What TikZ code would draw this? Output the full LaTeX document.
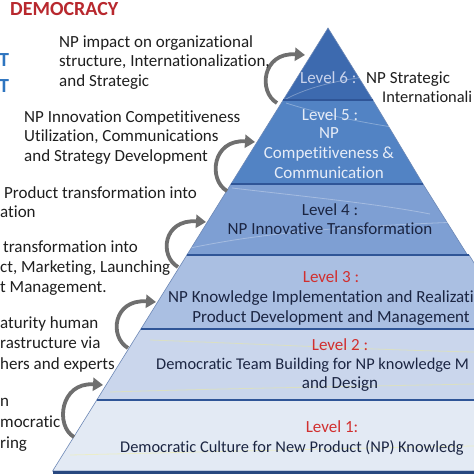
\documentclass[tikz,border=0pt]{standalone}
\usepackage{fontspec}
\setmainfont{Carlito}[Ligatures=NoCommon]
\usetikzlibrary{arrows.meta}
\definecolor{lvA}{HTML}{3D6AAF}
\definecolor{lvB}{HTML}{5283C4}
\definecolor{lvC}{HTML}{7E9FD3}
\definecolor{lvD}{HTML}{AABFE2}
\definecolor{lvE}{HTML}{CAD6EC}
\definecolor{lvF}{HTML}{E3EAF4}
\definecolor{edgeblue}{HTML}{2F5597}
\definecolor{arrowgray}{HTML}{6F6F6F}
\definecolor{redtxt}{HTML}{D12F2F}
\definecolor{demred}{HTML}{B8282E}
\definecolor{tblue}{HTML}{2E75C0}
\definecolor{lighttxt}{HTML}{E6ECF7}
\definecolor{pale}{HTML}{C9D3EC}
\definecolor{navytxt}{HTML}{1B2542}
\tikzset{
  txt/.style={font=\fontsize{17}{20}\selectfont, inner sep=0pt, anchor=base west, text=black!88},
  smalltxt/.style={txt, font=\fontsize{16.4}{20}\selectfont},
  ctxt/.style={txt, anchor=base},
  headline/.style={font=\fontsize{20}{24}\selectfont\bfseries, inner sep=0pt, anchor=base west},
  levelshape/.style={draw=edgeblue!70, line width=0.6pt},
  boundary/.style={draw=edgeblue, line width=1.3pt},
  garrow/.style={draw=arrowgray, line width=3.8pt, -{Triangle[length=10pt,width=13pt]}},
  swoosh/.style={draw=white, opacity=0.3, line width=0.8pt}
}
\begin{document}
\begin{tikzpicture}[x=1pt,y=-1pt]
\useasboundingbox (0,0) rectangle (474,474);
\begin{scope}
\clip (0,0) rectangle (474,474);
\fill[white] (0,0) rectangle (474,474);
% pyramid levels (apex 328,28)
\filldraw[levelshape, fill=lvF] (96.8,400) -- (559.2,400) -- (603.4,471) -- (52.6,471) -- cycle;
\filldraw[levelshape, fill=lvE] (140.9,329) -- (515.1,329) -- (559.2,400) -- (96.8,400) -- cycle;
\filldraw[levelshape, fill=lvD] (186.9,255) -- (469.1,255) -- (515.1,329) -- (140.9,329) -- cycle;
\filldraw[levelshape, fill=lvC] (231.0,184) -- (423.0,184) -- (467.5,255) -- (186.9,255) -- cycle;
\filldraw[levelshape, fill=lvB] (283.2,100) -- (372.8,100) -- (423.0,184) -- (231.0,184) -- cycle;
\filldraw[levelshape, fill=lvA] (328,28) -- (372.8,100) -- (283.2,100) -- cycle;
% decorative swooshes
\begin{scope}
\clip (328,28) -- (603.4,471) -- (52.6,471) -- cycle;
\draw[swoosh] (284,100) .. controls (310,86) and (340,80) .. (372,76);
\draw[swoosh] (286,103) .. controls (320,114) and (360,122) .. (392,127);
\draw[swoosh] (232,188) .. controls (300,196) and (380,204) .. (430,214);
\draw[swoosh] (190,248) .. controls (240,238) and (300,228) .. (460,222);
\draw[swoosh, draw=yellow!60!white] (150,340) .. controls (260,344) and (380,350) .. (474,352);
\draw[swoosh, draw=yellow!60!white] (110,392) .. controls (240,388) and (380,386) .. (474,384);
\draw[swoosh, draw=yellow!60!white] (70,455) .. controls (200,452) and (360,448) .. (474,446);
\end{scope}
% boundaries
\draw[boundary] (283.2,100) -- (372.8,100);
\draw[boundary] (231.0,184) -- (423.0,184);
\draw[boundary] (186.9,255) -- (469.1,255);
\draw[boundary] (140.9,329) -- (515.1,329);
\draw[boundary] (96.8,400) -- (559.2,400);
\draw[edgeblue!85!black, line width=3pt] (52.6,472.5) -- (603.4,472.5);
% arrows
\coordinate (h1) at (305,55);  \coordinate (t1) at (277,103);
\coordinate (h2) at (255,142); \coordinate (t2) at (227,191);
\coordinate (h3) at (206,222); \coordinate (t3) at (178,267);
\coordinate (h4) at (156,302); \coordinate (t4) at (128,348);
\coordinate (h5) at (103,385); \coordinate (t5) at (74,437);
\draw[garrow] (t1) .. controls +(-19,-11) and +(-43,-3) .. (h1);
\draw[garrow] (t2) .. controls +(-19,-11) and +(-43,-3) .. (h2);
\draw[garrow] (t3) .. controls +(-19,-11) and +(-43,-3) .. (h3);
\draw[garrow] (t4) .. controls +(-19,-11) and +(-43,-3) .. (h4);
\draw[garrow] (t5) .. controls +(-19,-11) and +(-43,-3) .. (h5);
% headings
\node[headline, text=demred] (dem) at (10,15) {DEMOCRACY};
\node[headline, text=tblue] (t1txt) at (-1,66) {T};
\node[headline, text=tblue] (t2txt) at (-1,92) {T};
% left texts
\node[txt] (a1) at (59,47) {NP impact on organizational};
\node[txt] (a2) at (59,66.5) {structure, Internationalization,};
\node[txt] (a3) at (59,86) {and Strategic};
\node[txt] (b1) at (24,122) {NP Innovation Competitiveness};
\node[txt] (b2) at (24,141.5) {Utilization, Communications};
\node[txt] (b3) at (24,161) {and Strategy Development};
\node[txt] (c1) at (4,198) {Product transformation into};
\node[txt] (c2) at (0,217) {ation};
\node[txt] (d1) at (3,252) {transformation into};
\node[txt] (d2) at (0,272) {ct, Marketing, Launching};
\node[txt] (d3) at (0,292) {t Management.};
\node[txt] (e1) at (0,328) {aturity human};
\node[txt] (e2) at (0,348.5) {rastructure via};
\node[txt] (e3) at (0,369) {hers and experts};
\node[txt] (f1) at (0,406) {n};
\node[txt] (f2) at (0,427) {mocratic};
\node[txt] (f3) at (0,448) {ring};
% level texts
\node[txt, text=pale] (l6) at (300,83) {Level 6 :};
\node[txt] (l6a) at (366,83) {NP Strategic};
\node[smalltxt] (l6b) at (382,102) {Internationali};
\node[ctxt, text=lighttxt] (l5) at (330,120) {Level 5 :};
\node[ctxt, text=lighttxt] (l5a) at (329,138.5) {NP};
\node[ctxt, text=lighttxt] (l5b) at (329,158) {Competitiveness \&};
\node[ctxt, text=lighttxt] (l5c) at (329,178) {Communication};
\node[ctxt, text=navytxt] (l4) at (330,215) {Level 4 :};
\node[ctxt, text=navytxt] (l4a) at (330,234) {NP Innovative Transformation};
\node[ctxt, text=redtxt] (l3) at (331,282) {Level 3 :};
\node[txt, text=navytxt] (l3a) at (168,302) {NP Knowledge Implementation and Realizati};
\node[ctxt, text=navytxt] (l3b) at (331,322) {Product Development and Management};
\node[ctxt, text=redtxt] (l2) at (340,350) {Level 2 :};
\node[smalltxt, text=navytxt] (l2a) at (156,369) {Democratic Team Building for NP knowledge M};
\node[ctxt, text=navytxt] (l2b) at (340,388) {and Design};
\node[ctxt, text=redtxt] (l1) at (332,432) {Level 1:};
\node[smalltxt, text=navytxt] (l1a) at (120,452) {Democratic Culture for New Product (NP) Knowledg};
\end{scope}
\end{tikzpicture}
\end{document}
